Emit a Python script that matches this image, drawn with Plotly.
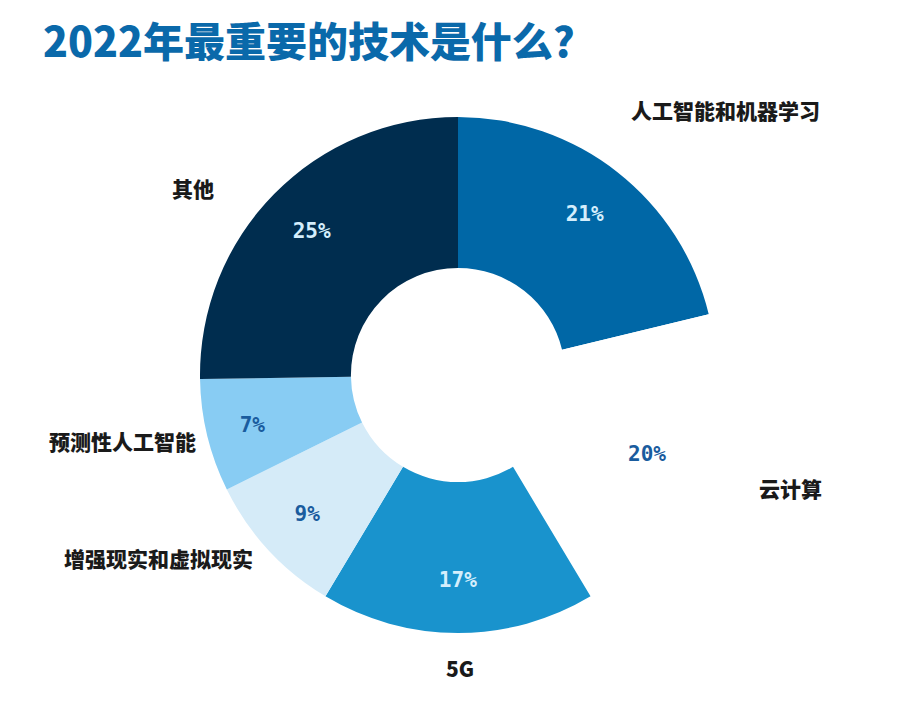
import plotly.graph_objects as go

# Data
categories = ["人工智能和机器学习", "云计算", "5G", "增强现实和虚拟现实", "预测性人工智能", "其他"]
values = [21, 20, 17, 9, 7, 25]
title_text = "2022年最重要的技术是什么?"

# Styles
slice_colors = ["#0067a6", "#ffffff", "#1993cd", "#d5ebf8", "#88ccf3", "#002d4f"]
pct_colors = ["#d4eefc", "#1a5c9e", "#d4eefc", "#1a5c9e", "#1a5c9e", "#d4eefc"]
# outer label positions (page px) – layout only
label_pos_px = [(725, 110), (790, 488), (460, 668), (158, 558), (122, 441), (193, 188)]

W, H = 900, 708
OFF = 8  # browser body margin
cx, cy, R = 458 - OFF, 375 - OFF, 258
dom = dict(x=[(cx - R) / W, (cx + R) / W],
           y=[(H - cy - R) / H, (H - cy + R) / H])

fig = go.Figure()
# visible ring
fig.add_trace(go.Pie(
    labels=categories, values=values, sort=False, direction="clockwise",
    rotation=0, hole=0.415,
    marker=dict(colors=slice_colors, line=dict(width=0)),
    textinfo="none", hoverinfo="label+value", showlegend=False, domain=dom,
))
# transparent ring carrying the percentage labels
fig.add_trace(go.Pie(
    labels=categories, values=values, sort=False, direction="clockwise",
    rotation=0, hole=0.59,
    marker=dict(colors=["rgba(0,0,0,0)"] * len(values), line=dict(width=0)),
    texttemplate="%{value}%", textposition="inside",
    insidetextorientation="horizontal",
    textfont=dict(family="DejaVu Sans Mono", size=21, color=pct_colors, weight="bold"),
    hoverinfo="skip", showlegend=False, domain=dom,
))

annotations = []
for name, (px, py) in zip(categories, label_pos_px):
    annotations.append(dict(
        x=(px - OFF) / W, y=1 - (py - OFF) / H, xref="paper", yref="paper",
        text=name, showarrow=False,
        xanchor="center", yanchor="middle",
        font=dict(family="Noto Sans CJK SC", size=21, color="#1a1a1a", weight=900),
    ))

fig.update_layout(
    width=W, height=H,
    margin=dict(l=0, r=0, t=0, b=0),
    paper_bgcolor="white",
    plot_bgcolor="white",
    title=dict(
        text=title_text,
        x=(43 - OFF) / W, xanchor="left",
        y=1 - (43 - OFF) / H, yanchor="middle",
        xref="container", yref="container",
        font=dict(family="Noto Sans CJK SC", size=41, color="#0a69aa", weight=900),
    ),
    annotations=annotations,
)

fig.write_html("out.html")
